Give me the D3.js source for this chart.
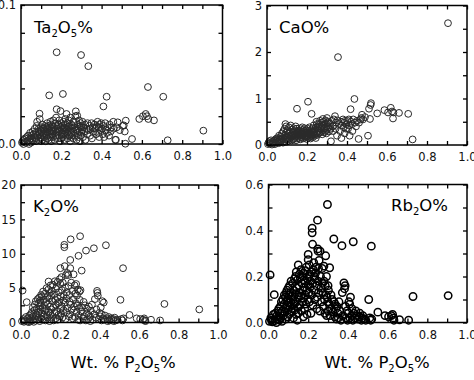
<!DOCTYPE html>
<html><head><meta charset="utf-8">
<script src="https://cdn.jsdelivr.net/npm/d3@7"></script>
<style>
html,body{margin:0;padding:0;background:#fff;}
svg{display:block;font-family:"DejaVu Sans",sans-serif;}
</style></head>
<body>
<svg id="c" width="474" height="380"></svg>
<script>
// shared x: Wt.% P2O5
const p2o5 = [
.005,.008,.012,.015,.02,.025,.029,.032,.035,.04,.042,.045,.048,.05,
.052,.055,.058,.06,.062,.065,.068,.07,.072,.075,.078,.08,.082,.085,.086,.088,.09,.092,.093,.095,.096,.098,.1,.1,.1,
.102,.104,.106,.108,.11,.112,.114,.116,.118,.12,.122,.124,.126,.128,.13,.131,.133,.135,.137,.139,.14,.141,.143,.145,.146,.148,.15,.15,.149,
.152,.154,.156,.158,.16,.162,.164,.166,.168,.17,.172,.174,.176,.177,.177,.18,.182,.184,.186,.186,.188,.19,.192,.194,.196,.198,.2,.2,.2,
.202,.204,.205,.206,.208,.21,.212,.214,.216,.218,.22,.22,.222,.223,.224,.226,.228,.23,.231,.233,.235,.237,.24,.242,.244,.245,.247,.248,.25,.25,.252,.252,
.255,.258,.26,.262,.265,.267,.27,.272,.274,.276,.279,.28,.282,.284,.286,.288,.29,.292,.293,.295,.297,.298,.3,.3,.302,
.305,.308,.31,.315,.318,.32,.325,.329,.33,.334,.335,.34,.343,.345,.35,.352,.355,.36,.365,.37,.372,.375,.38,.383,.386,.388,.39,.395,.398,
.402,.405,.409,.41,.413,.418,.42,.425,.427,.431,.437,.44,.445,.45,.458,.46,.468,.471,.475,.48,.49,
.505,.51,.515,.518,.52,.551,.587,.605,.619,.625,.63,.632,.66,.706,.728,.905];

const ta2o5 = [
.001,.002,.0,.003,.004,.001,.005,.002,.006,.0,.003,.008,.004,.001,
.006,.003,.009,.002,.007,.005,.011,.004,.008,.002,.013,.016,.006,.009,.003,.011,.007,.0218,.018,.005,.01,.004,.012,.008,.002,
.009,.006,.014,.003,.011,.007,.01,.005,.013,.008,.002,.012,.006,.009,.015,.004,.011,.007,.013,.003,.035,.009,.012,.005,.016,.008,.01,.014,.002,
.011,.007,.013,.005,.017,.009,.012,.003,.01,.015,.006,.019,.008,.066,.025,.011,.004,.013,.009,.014,.006,.017,.01,.002,.0237,.012,.007,.015,.004,
.011,.008,.013,.005,.036,.01,.016,.007,.012,.003,.018,.009,.014,.006,.011,.0216,.008,.015,.004,.012,.009,.017,.006,.013,.002,.019,.01,.007,.014,.005,.011,.008,
.013,.004,.016,.009,.012,.006,.02,.0235,.01,.003,.0204,.008,.014,.011,.005,.017,.009,.013,.002,.015,.006,.064,.012,.008,.01,
.016,.005,.012,.009,.014,.003,.011,.007,.015,.056,.01,.013,.006,.011,.015,.004,.012,.009,.014,.011,.007,.013,.016,.008,.012,.005,.014,.01,.015,
.011,.007,.027,.013,.005,.015,.01,.034,.008,.012,.006,.014,.009,.012,.016,.011,.003,.003,.012,.0156,.01,
.013,.0134,.009,.0002,.0168,.0036,.018,.02,.0216,.02,.041,.018,.017,.034,.0027,.0096];

const cao = [
.02,.05,.08,.03,.1,.01,.06,.04,.09,.02,.12,.05,.14,.07,
.1,.15,.04,.2,.08,.12,.06,.18,.1,.25,.14,.05,.3,.2,.08,.35,.12,.45,.22,.16,.4,.07,.28,.18,.11,
.32,.15,.24,.09,.38,.2,.13,.27,.42,.17,.22,.1,.33,.19,.26,.12,.36,.21,.15,.29,.24,.18,.4,.1,.3,.2,.78,.35,.14,
.25,.18,.22,.31,.15,.27,.2,.12,.34,.24,.29,.17,.38,.21,.26,.14,.32,.23,.19,.28,.36,.16,.25,.2,.31,.13,.27,.22,.18,
.35,.2,.93,.25,.3,.16,.38,.22,.27,.14,.32,.24,.19,.67,.29,.21,.36,.17,.26,.42,.23,.3,.2,.33,.15,.38,.5,.25,.45,.28,.35,.22,
.4,.3,.45,.26,.52,.35,.28,.48,.38,.23,.56,.42,.32,.5,.27,.44,.36,.53,.3,.46,.25,.4,.58,.33,.48,
.38,.5,.29,.46,.35,.08,.52,.4,.3,.55,.42,.62,.35,.48,.2,.53,1.89,.45,.3,.5,.15,.42,.55,.38,.48,.25,.52,.35,.45,
.52,.35,.55,.42,.2,.77,.5,.45,.3,.55,.99,.48,.4,.52,.13,.48,.55,.58,.65,.55,.6,
.2,.78,.56,.86,.9,.68,.75,.7,.8,.72,.57,.7,.69,.67,.12,2.62];

const k2o = [
.2,4.65,.5,.1,.3,.8,2.96,.15,.6,.05,1.0,.4,.2,1.2,
.7,1.5,.3,2.2,.9,.1,1.8,2.6,.5,3.1,1.1,2.0,.4,3.4,1.4,2.8,.8,3.6,1.6,.2,2.4,3.2,1.9,.6,2.9,
4.0,1.3,3.8,.45,2.1,4.5,.9,3.3,2.5,1.7,4.2,.3,3.0,2.0,5.0,1.0,3.7,.7,2.7,4.8,5.96,1.5,3.5,.2,4.3,2.3,1.2,5.4,.5,
3.9,1.9,4.6,.8,3.1,5.5,2.2,.3,4.1,1.4,6.0,3.3,.6,2.6,4.9,1.6,5.2,3.6,.4,5.9,2.8,1.1,4.4,3.0,6.3,.9,7.9,2.0,5.6,
3.8,1.3,6.6,2.4,4.7,.7,5.8,3.2,1.8,4.0,11.3,10.95,8.2,2.9,5.1,.5,6.9,3.5,1.5,4.4,7.2,2.1,6.9,5.3,.9,4.0,3.0,1.2,9.1,7.9,12.1,2.6,
5.8,1.9,4.6,.6,3.4,7.0,2.3,5.4,.8,4.2,2.8,5.6,1.5,3.9,2.5,4.8,.4,9.7,1.0,2.1,4.5,3.3,12.55,.3,4.7,
1.6,7.55,2.2,.6,3.0,.9,2.5,.3,10.46,1.3,2.0,.5,1.1,2.3,.8,.2,1.7,2.6,.4,10.8,1.2,3.4,.7,1.9,4.6,4.3,3.9,.5,1.4,
.9,2.2,.3,1.2,3.1,.6,2.9,.4,1.0,11.24,.5,.2,.8,.3,.6,.4,.5,.2,.7,.3,.4,
3.3,.5,.3,7.9,.6,1.1,.6,.5,.4,.6,.3,.2,.4,.3,2.7,1.9];

const rb2o = [
.005,.207,.02,.01,.003,.035,.121,.008,.04,.0,.03,.015,.05,.025,
.06,.01,.04,.07,.02,.09,.005,.05,.1,.03,.08,.12,.045,.11,.015,.065,.13,.095,.14,.075,.025,.105,.055,.15,.085,
.12,.035,.16,.07,.13,.09,.18,.045,.115,.06,.17,.1,.02,.14,.08,.19,.055,.125,.2,.035,.22,.09,.15,.01,.185,.065,.11,.25,.04,
.16,.13,.21,.075,.195,.115,.23,.05,.17,.09,.14,.2,.025,.215,.105,.155,.06,.18,.12,.225,.08,.24,.14,.035,.19,.1,.296,.165,.273,
.2,.13,.25,.09,.21,.155,.18,.04,.22,.12,.41,.39,.34,.17,.075,.23,.26,.14,.2,.1,.19,.215,.24,.16,.06,.11,.445,.32,.31,.18,.235,.13,
.27,.05,.31,.2,.15,.09,.235,.17,.13,.07,.245,.18,.1,.04,.16,.29,.12,.2,.03,.11,.513,.09,.16,.05,.14,
.08,.238,.03,.12,.06,.1,.045,.363,.09,.025,.08,.06,.015,.07,.04,.02,.09,.05,.01,.334,.13,.03,.172,.147,.16,.07,.02,.05,.01,
.04,.09,.08,.02,.11,.03,.06,.01,.351,.04,.02,.05,.03,.015,.025,.04,.01,.02,.03,.015,.01,
.1,.02,.01,.332,.015,.045,.03,.025,.03,.035,.02,.01,.012,.01,.113,.117];

const xTickMinor = [0,.1,.2,.3,.4,.5,.6,.7,.8,.9,1];
const xTickLabels = [0,.2,.4,.6,.8,1];

const panels = [
  {vals:ta2o5, dom:[0,0.1], minor:[0,.02,.04,.06,.08,.1], major:[0,.1], fmt:d3.format(".1f"),
   L:21, R:222.5, T:5, B:144, title:[["Ta"],["2",1],["O"],["5",1],["%"]], tx:34, ty:33, r:3.4, sw:1, col:"#2a2a2a"},
  {vals:cao, dom:[0,3], minor:[0,.5,1,1.5,2,2.5,3], major:[0,1,2,3], fmt:d3.format("d"),
   L:267, R:467, T:5.5, B:145, title:[["CaO%"]], tx:279, ty:33, r:3.4, sw:1, col:"#2a2a2a"},
  {vals:k2o, dom:[0,20], minor:[0,2.5,5,7.5,10,12.5,15,17.5,20], major:[0,5,10,15,20], fmt:d3.format("d"),
   L:21, R:218, T:185, B:322.5, title:[["K"],["2",1],["O%"]], tx:33, ty:212, r:3.4, sw:1, col:"#2a2a2a"},
  {vals:rb2o, dom:[0,0.6], minor:[0,.1,.2,.3,.4,.5,.6], major:[0,.2,.4,.6], fmt:d3.format(".1f"),
   L:268.5, R:467, T:184.5, B:322.5, title:[["Rb"],["2",1],["O%"]], tx:391, ty:211, r:3.7, sw:1.5, col:"#000"}
];

function rich(t, parts, subSize, shift){
  let prevSub = false;
  parts.forEach(s=>{
    const isSub = !!s[1];
    const ts = t.append("tspan").text(s[0]);
    if (isSub) ts.attr("font-size", subSize);
    const dy = (isSub && !prevSub) ? shift : (!isSub && prevSub) ? -shift : 0;
    if (dy) ts.attr("dy", dy);
    prevSub = isSub;
  });
}

const svg = d3.select("#c");

panels.forEach(p => {
  const x = d3.scaleLinear().domain([0,1]).range([p.L,p.R]);
  const y = d3.scaleLinear().domain(p.dom).range([p.B,p.T]);
  const g = svg.append("g");

  g.append("g").selectAll("circle").data(p2o5.map((v,i)=>[v,p.vals[i]])).join("circle")
    .attr("cx", d=>x(d[0])).attr("cy", d=>y(d[1])).attr("r", p.r)
    .attr("fill","none").attr("stroke",p.col).attr("stroke-width",p.sw);

  const tk = 4;
  g.append("g").attr("transform",`translate(0,${p.B})`)
    .call(d3.axisBottom(x).tickValues(xTickMinor).tickSize(-tk).tickFormat(""));
  g.append("g").attr("transform",`translate(0,${p.T})`)
    .call(d3.axisTop(x).tickValues(xTickMinor).tickSize(-tk).tickFormat(""));
  g.append("g").attr("transform",`translate(${p.L},0)`)
    .call(d3.axisLeft(y).tickValues(p.minor).tickSize(-tk).tickFormat(""));
  g.append("g").attr("transform",`translate(${p.R},0)`)
    .call(d3.axisRight(y).tickValues(p.minor).tickSize(-tk).tickFormat(""));

  const xl = g.append("g").attr("transform",`translate(0,${p.B})`)
    .call(d3.axisBottom(x).tickValues(xTickLabels).tickSize(0).tickPadding(8).tickFormat(d3.format(".1f")));
  const yl = g.append("g").attr("transform",`translate(${p.L},0)`)
    .call(d3.axisLeft(y).tickValues(p.major).tickSize(0).tickPadding(5).tickFormat(p.fmt));
  [xl,yl].forEach(a=>{
    a.select(".domain").remove();
    a.selectAll("text").attr("font-size",11.5).attr("font-family","DejaVu Sans, sans-serif").attr("fill","#111");
  });
  g.selectAll(".tick line").attr("stroke","#000").attr("stroke-width",1.3);
  g.selectAll(".domain").attr("stroke","none");

  g.append("rect").attr("x",p.L).attr("y",p.T).attr("width",p.R-p.L).attr("height",p.B-p.T)
    .attr("fill","none").attr("stroke","#000").attr("stroke-width",1.5);

  const t = g.append("text").attr("x",p.tx).attr("y",p.ty).attr("font-size",16.5).attr("fill","#000");
  rich(t, p.title, 10, 4);
});

[123, 377].forEach(cx=>{
  const t = svg.append("text").attr("x",cx).attr("y",368).attr("text-anchor","middle")
    .attr("font-size",16.5).attr("fill","#000");
  rich(t, [["Wt. % P"],["2",1],["O"],["5",1],["%"]], 10, 4);
});
</script>
</body></html>
